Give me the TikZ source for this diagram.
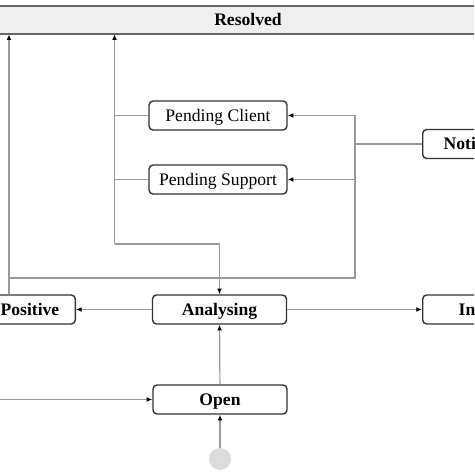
\documentclass[tikz,border=0pt]{standalone}
\usepackage{fontspec}
\setmainfont{Liberation Serif}
\usepackage{xcolor}
\usepackage{tikz}
\usetikzlibrary{arrows.meta, positioning}

\definecolor{edgegray}{HTML}{9A9A9A}
\definecolor{bargray}{HTML}{EFEFEF}
\definecolor{startgray}{HTML}{DCDCDC}

\begin{document}
\begin{tikzpicture}[x=0.5pt,y=-0.5pt,>={Latex[length=2.8pt,width=2.4pt,color=black]},thin]
                \tikzset{every node/.style={font=\fontsize{8.8}{10}\selectfont},
                         state/.style={draw=black!80, line width=0.7pt, rounded corners=2pt, fill=white,
                                       minimum width=67pt, minimum height=14.5pt, inner sep=0pt, text height=7pt, text depth=1.4pt,
                                       font=\fontsize{8.8}{10}\selectfont\bfseries},
                         pending/.style={state, minimum width=69pt, font=\fontsize{8.8}{10}\selectfont},
                         link/.style={draw=edgegray, line width=0.6pt}}
                \useasboundingbox (0,0) rectangle (474,474);
                \clip (0,0) rectangle (474,474);
                \node[fill=bargray, minimum width=280pt, minimum height=14pt, inner sep=0pt, text height=7pt, text depth=1.4pt,
                      font=\fontsize{8.8}{10}\selectfont\bfseries] (R) at (248,20) {Resolved};
                \draw[black!60, line width=1pt] (R.north west) -- (R.north east) (R.south west) -- (R.south east);
                \node[pending] (PC) at (218,115.5) {Pending Client};
                \node[pending] (PS) at (218,179.5) {Pending Support};
                \node[state, anchor=west, text width=50pt, inner xsep=10.5pt, align=left] (N) at (422,144) {Noti};
                \node[state] (A) at (219.5,309.5) {Analysing};
                \node[state, anchor=east, text width=60pt, inner xsep=8pt, align=right] (P) at (76,309.5) {Positive};
                \node[state, anchor=west, text width=50pt, inner xsep=18pt, align=left] (I) at (422,309.5) {In};
                \node[state] (O) at (220,399.5) {Open};
                \node[circle, fill=startgray, minimum size=11pt, inner sep=0pt] (S) at (220,459) {};
                \coordinate (L) at (9,278);
                \coordinate (M) at (114.5,244);
                \coordinate (K) at (355,278);
                \coordinate (E) at (-5,399.5);
                \path[link,->] (A) -- (P);
                \path[link,->] (A) -- (I);
                \path[link,->] (S) -- (O);
                \path[link,->] (O) -- (A);
                \path[link,->] (E) -- (O);
                \path[link,->] (P.north -| L) -- (L |- R.south);
                \path[link] (N) -- (K |- N.west);
                \path[link] (K |- PC.east) -- (K) -- (L);
                \path[link,->] (K |- PC.east) -- (PC);
                \path[link,->] (K |- PS.east) -- (PS);
                \path[link,->] (M) -- (M |- R.south);
                \path[link] (PC) -- (M |- PC.west);
                \path[link] (PS) -- (M |- PS.west);
                \path[link,->] (M) -| (A);
            \end{tikzpicture}
\end{document}
